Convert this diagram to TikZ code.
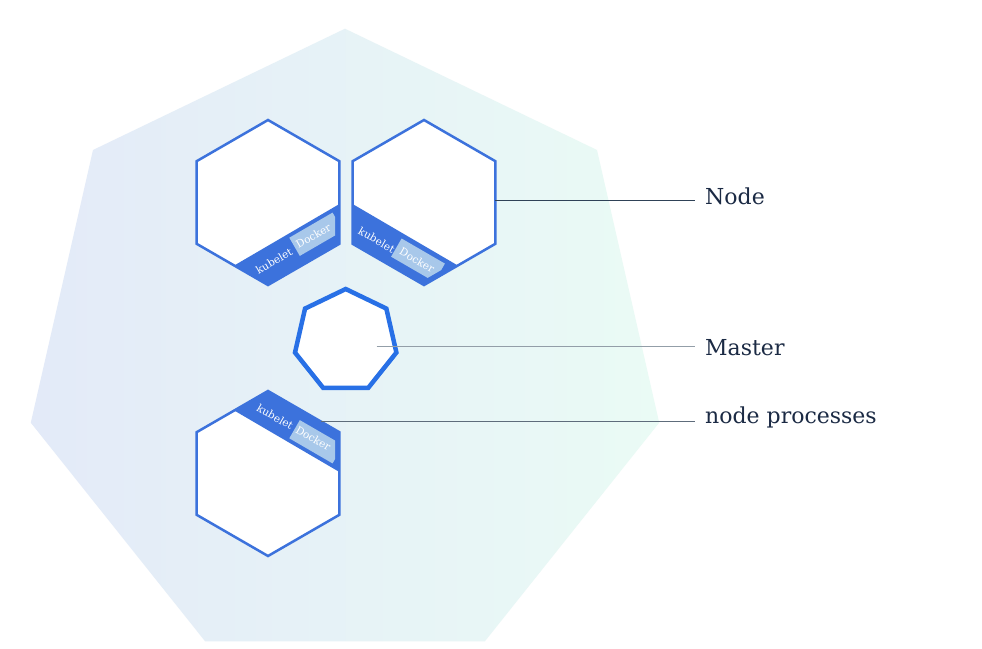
\documentclass[tikz,border=0pt]{standalone}
\usepackage{fontspec}
\setmainfont{DejaVu Serif}
\usetikzlibrary{shapes.geometric}
\definecolor{hexblue}{HTML}{3C72DC}
\definecolor{masterblue}{HTML}{2870E6}
\definecolor{dockerblue}{HTML}{A8C8EA}
\definecolor{bgleft}{HTML}{E3EAF8}
\definecolor{bgright}{HTML}{EAFBF5}
\definecolor{labelink}{HTML}{1B2A44}
\definecolor{lineA}{HTML}{2F4257}
\definecolor{lineB}{HTML}{939EA8}
\definecolor{lineC}{HTML}{5E6C7B}
\newcommand\hexouter{(0,-82.5) -- (71.45,-41.25) -- (71.45,41.25) -- (0,82.5) -- (-71.45,41.25) -- (-71.45,-41.25) -- cycle}
\newcommand\hexinner{(0,-77.5) -- (67.12,-38.75) -- (67.12,38.75) -- (0,77.5) -- (-67.12,38.75) -- (-67.12,-38.75) -- cycle}
\begin{document}
\begin{tikzpicture}[x=1pt,y=-1pt,
  hexnode/.style={regular polygon,regular polygon sides=6,shape border rotate=30,
    minimum size=165pt,inner sep=0pt,outer sep=0pt,draw=hexblue,line width=2.5pt,fill=white},
  masternode/.style={regular polygon,regular polygon sides=7,minimum size=104pt,
    inner sep=0pt,outer sep=0pt,draw=masterblue,line width=4.5pt,fill=white},
  tag/.style={text=white,font=\fontsize{10.5}{12}\selectfont,inner sep=0pt},
  lbltext/.style={text=labelink,font=\fontsize{22}{26}\selectfont,inner xsep=10pt,inner ysep=0pt,anchor=base west},
  leader/.style={line width=1pt}]
\fill[white] (0,0) rectangle (982,648);
\useasboundingbox (0,0) rectangle (982,648);
% cluster background
\shade[left color=bgleft,right color=bgright]
  (345,28.7) -- (597,150) -- (659.2,422.7) -- (484.8,641.4) -- (205.2,641.4) -- (30.8,422.7) -- (93,150) -- cycle;

% node 1
\node[hexnode] (hex1) at (268,202.5) {};
\begin{scope}[shift={(hex1.center)}]
  \clip \hexouter;
  \fill[hexblue] (-55,75.4) -- (93,-11.1) -- (93,100) -- (-55,100) -- cycle;
  \clip (-100,-100) rectangle (67,100);
  \fill[dockerblue] (21.3,35.2) -- (64.55,10.1) -- (75.1,28.3) -- (31.8,53.4) -- cycle;
\end{scope}
\node[tag,rotate=30] (kub1) at ([shift={(6,58.5)}]hex1.center) {kubelet};
\node[tag,rotate=30] (dock1) at ([shift={(45.3,33.5)}]hex1.center) {Docker};

% node 2
\node[hexnode] (hex2) at (424,202.5) {};
\begin{scope}[shift={(hex2.center)}]
  \clip \hexouter;
  \fill[hexblue] (55,75.4) -- (-93,-11.1) -- (-93,100) -- (55,100) -- cycle;
  \clip \hexinner;
  \fill[dockerblue] (-22.4,36) -- (20.9,61.1) -- (10.4,79.3) -- (-32.9,54.2) -- cycle;
\end{scope}
\node[tag,rotate=-30] (kub2) at ([shift={(-47.3,37.5)}]hex2.center) {kubelet};
\node[tag,rotate=-30] (dock2) at ([shift={(-7,57.5)}]hex2.center) {Docker};

% node 3
\node[hexnode] (hex3) at (268,473.5) {};
\begin{scope}[shift={(hex3.center)}]
  \clip \hexouter;
  \fill[hexblue] (-55,-75.4) -- (93,11.1) -- (93,-100) -- (-55,-100) -- cycle;
  \clip (-100,-100) rectangle (67,100);
  \fill[dockerblue] (21.3,-35.2) -- (64.55,-10.1) -- (75.1,-28.3) -- (31.8,-53.4) -- cycle;
\end{scope}
\node[tag,rotate=-30] (kub3) at ([shift={(7,-56.8)}]hex3.center) {kubelet};
\node[tag,rotate=-30] (dock3) at ([shift={(45.3,-35.2)}]hex3.center) {Docker};

% master
\node[masternode] (master) at (345.7,341) {};

% labels
\node[lbltext] (lblnode) at (695,204.5) {Node};
\node[lbltext] (lblmaster) at (695,355) {Master};
\node[lbltext] (lblproc) at (695,423) {node processes};

% leaders
\coordinate (n2e) at ([yshift=2.5pt]hex2.east);
\coordinate (mst) at ([shift={(31,5.5)}]master.center);
\coordinate (h3e) at ([shift={(53,-52)}]hex3.center);
\draw[leader,lineA] (n2e) -- (n2e -| lblnode.west);
\draw[leader,lineB] (mst) -- (mst -| lblmaster.west);
\draw[leader,lineC] (h3e) -- (h3e -| lblproc.west);
\end{tikzpicture}
\end{document}
